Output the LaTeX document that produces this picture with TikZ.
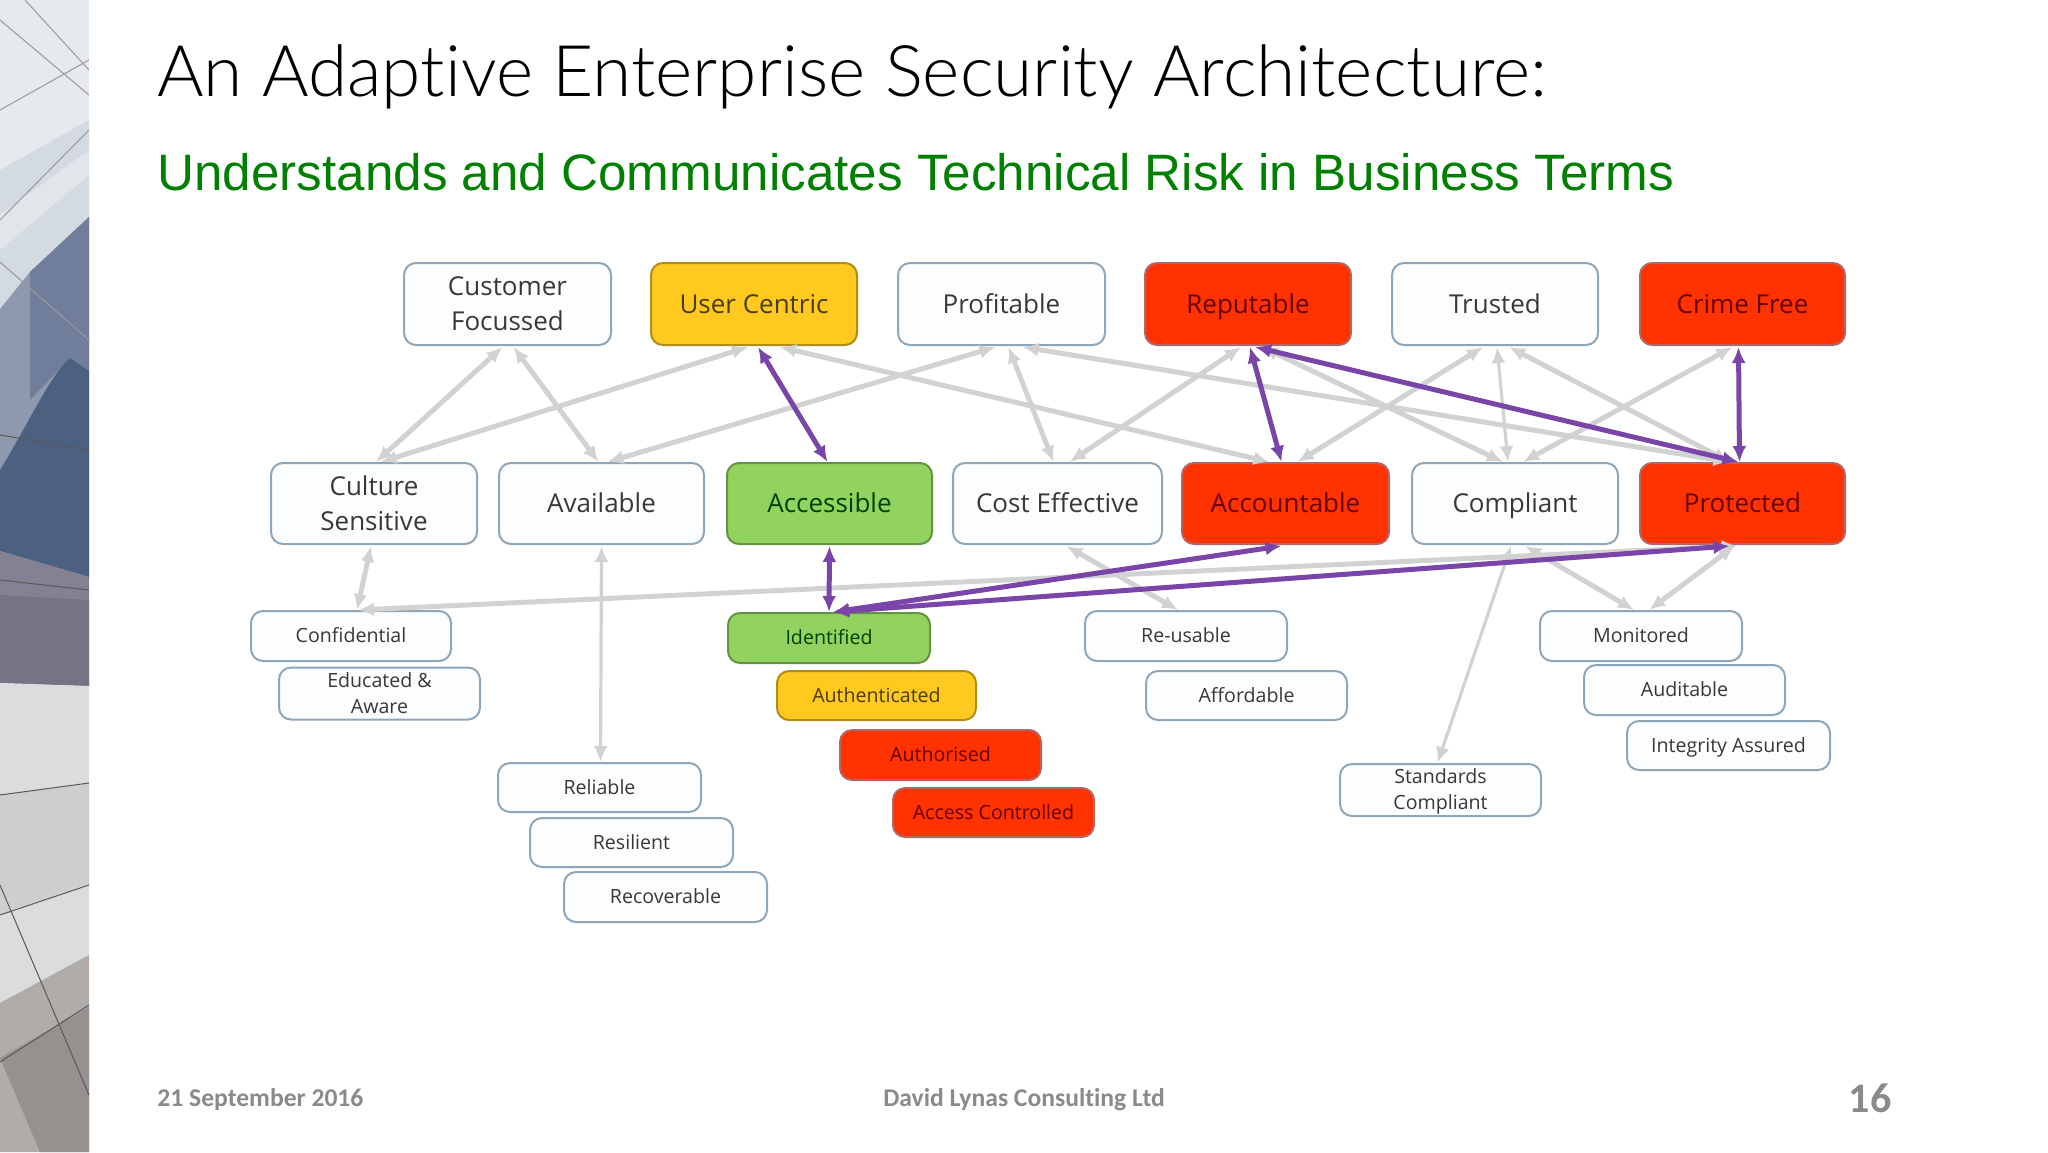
\documentclass[tikz,border=0pt]{standalone}
\usepackage{fontspec}
\setmainfont{Open Sans}
\newfontfamily\titlef[Ligatures=NoCommon]{Lato Light}
\newfontfamily\footf[Ligatures=NoCommon]{Carlito}
\newfontfamily\subf{Liberation Sans}
\usetikzlibrary{arrows.meta,calc}
\definecolor{bordc}{HTML}{8FA6B8}
\definecolor{fillw}{HTML}{FBFDFE}
\definecolor{redf}{HTML}{FF3200}
\definecolor{yelf}{HTML}{FFC91F}
\definecolor{grnf}{HTML}{92D25F}
\definecolor{grayl}{HTML}{D2D2D2}
\definecolor{purp}{HTML}{7A45A8}
\definecolor{foot}{HTML}{8A8A8A}
\newcommand\sv{\rule[-.24\baselineskip]{0pt}{\baselineskip}}
\tikzset{
  box/.style={draw=bordc,line width=1pt,fill=fillw,rounded corners=6pt,inner sep=0pt,align=center,text=black!78},
  bigb/.style={box,font=\fontsize{13}{17.6}\selectfont},
  smallb/.style={box,font=\fontsize{9.8}{13}\selectfont},
  redb/.style={fill=redf,draw=red!50!black!60,text=red!40!black},
  yelb/.style={fill=yelf,draw=yelf!70!black,text=yelf!30!black},
  grnb/.style={fill=grnf,draw=grnf!70!black,text=green!25!black},
  gl/.style={draw=grayl,line width=2.5pt,{Latex[length=8pt,width=7pt]}-{Latex[length=8pt,width=7pt]}},
  gt/.style={gl,line width=1.6pt},
  pl/.style={draw=purp,line width=2.5pt,{Latex[length=8pt,width=7pt]}-{Latex[length=8pt,width=7pt]}}
}
\newcommand\bx[7]{\node[#1,minimum width={(#5-#3)*0.5pt},minimum height={(#6-#4)*0.5pt}] (#2) at ({(#3+#5)/2},{(#4+#6)/2}) {\sv #7};}
\newcommand\lk[5]{\draw[#1] ($(#2.south)+(#3,1)$) -- ($(#4.north)+(#5,0)$);}
\begin{document}
\begin{tikzpicture}[x=0.5pt,y=-0.5pt]
\useasboundingbox (0,0) rectangle (2048,1152);
% left photo strip
\begin{scope}
\clip (0,0) rectangle (89,1152);
\fill[color={rgb,255:red,230;green,234;blue,238}] (0,0) rectangle (89,1152);
\fill[color={rgb,255:red,212;green,218;blue,225}] (0,170) -- (89,120) -- (89,217) -- (0,309) -- cycle;
\fill[color={rgb,255:red,226;green,230;blue,235}] (0,215) -- (89,150) -- (89,175) -- (0,250) -- cycle;
\fill[color={rgb,255:red,142;green,152;blue,174}] (0,309) -- (30,272) -- (89,217) -- (89,577) -- (0,551) -- cycle;
\fill[color={rgb,255:red,112;green,126;blue,156}] (30,272) -- (89,217) -- (89,371) -- (70,358) -- (30,400) -- cycle;
\fill[color={rgb,255:red,76;green,96;blue,128}] (0,470) .. controls (25,430) and (50,375) .. (70,358) -- (89,371) -- (89,577) -- (0,551) -- cycle;
\fill[color={rgb,255:red,132;green,130;blue,146}] (0,551) -- (89,577) -- (89,686) -- (0,683) -- cycle;
\fill[color={rgb,255:red,118;green,116;blue,132}] (0,595) -- (89,600) -- (89,686) -- (0,683) -- cycle;
\fill[color={rgb,255:red,218;green,220;blue,222}] (0,683) -- (89,686) -- (89,960) -- (0,1003) -- cycle;
\fill[color={rgb,255:red,204;green,206;blue,208}] (0,795) -- (89,783) -- (89,885) -- (0,915) -- cycle;
\fill[color={rgb,255:red,176;green,172;blue,170}] (0,1003) -- (89,955) -- (89,1152) -- (0,1152) -- cycle;
\fill[color={rgb,255:red,150;green,145;blue,142}] (0,1058) -- (89,1007) -- (89,1152) -- (40,1152) -- cycle;
\draw[black!40,line width=0.5pt] (0,20) -- (89,95) (25,0) -- (89,70) (0,110) -- (89,60) (0,220) -- (89,130) (0,262) -- (89,340);
\draw[black!65,line width=0.5pt] (0,435) -- (89,450) (0,580) -- (89,590) (0,795) -- (89,783) (0,915) -- (89,885) (0,885) -- (89,1095) (0,1062) -- (89,1005);
\end{scope}
% titles
\node[anchor=base west,inner sep=0pt,font=\titlef\fontsize{35.6}{40}\selectfont,text=black] (title) at (157,96) {An Adaptive Enterprise Security Architecture:};
\node[anchor=base west,inner sep=0pt,font=\subf\fontsize{25.6}{30}\selectfont,text={rgb,255:red,0;green,128;blue,0}] (subtitle) at (157,190) {Understands and Communicates Technical Risk in Business Terms};
% row 1
\bx{bigb}{cf}{404}{263}{611}{345}{Customer\\\sv Focussed}
\bx{bigb,yelb}{uc}{651}{263}{857}{345}{User Centric}
\bx{bigb}{pr}{898}{263}{1105}{345}{Profitable}
\bx{bigb,redb}{re}{1145}{263}{1351}{345}{Reputable}
\bx{bigb}{tr}{1392}{263}{1598}{345}{Trusted}
\bx{bigb,redb}{cr}{1640}{263}{1845}{345}{Crime Free}
% row 2
\bx{bigb}{cs}{271}{463}{477}{544}{Culture\\\sv Sensitive}
\bx{bigb}{av}{499}{463}{704}{544}{Available}
\bx{bigb,grnb}{ac}{727}{463}{932}{544}{Accessible}
\bx{bigb}{ce}{953}{463}{1162}{544}{Cost Effective}
\bx{bigb,redb}{au}{1182}{463}{1389}{544}{Accountable}
\bx{bigb}{co}{1412}{463}{1618}{544}{Compliant}
\bx{bigb,redb}{pt}{1640}{463}{1845}{544}{Protected}
% small boxes
\bx{smallb}{cn}{251}{611}{451}{661}{Confidential}
\bx{smallb}{ed}{279}{669}{480}{718}{Educated \&\\\sv Aware}
\bx{smallb,grnb}{id}{728}{613}{930}{663}{Identified}
\bx{smallb,yelb}{at}{777}{671}{976}{720}{Authenticated}
\bx{smallb,redb}{ao}{840}{730}{1041}{780}{Authorised}
\bx{smallb,redb}{ax}{893}{788}{1094}{837}{Access Controlled}
\bx{smallb}{ru}{1085}{611}{1287}{661}{Re-usable}
\bx{smallb}{af}{1146}{671}{1347}{720}{Affordable}
\bx{smallb}{mo}{1540}{611}{1742}{661}{Monitored}
\bx{smallb}{ad}{1584}{665}{1785}{715}{Auditable}
\bx{smallb}{ia}{1627}{721}{1830}{770}{Integrity Assured}
\bx{smallb}{sc}{1340}{765}{1541}{815}{Standards\\\sv Compliant}
\bx{smallb}{rl}{498}{763}{701}{812}{Reliable}
\bx{smallb}{rs}{530}{818}{733}{867}{Resilient}
\bx{smallb}{rc}{564}{872}{767}{922}{Recoverable}
% grey connectors
\lk{gl}{cf}{-5}{cs}{2}
\lk{gl}{cf}{6}{av}{-3}
\lk{gl}{uc}{-6}{cs}{7}
\lk{gl}{uc}{26}{au}{-16}
\lk{gl}{pr}{-6}{av}{6}
\lk{gl}{pr}{7}{ce}{-4}
\lk{gl}{pr}{21}{pt}{-13}
\lk{gl}{re}{-7}{ce}{12}
\lk{gl}{re}{14}{co}{-12}
\lk{gl}{tr}{-12}{au}{12}
\lk{gt}{tr}{2}{co}{-7}
\lk{gl}{tr}{14}{pt}{-13}
\lk{gl}{cr}{-10}{co}{8}
\lk{gl}{cs}{-3}{cn}{6}
\lk{gt}{av}{0}{rl}{1}
\lk{gl}{ce}{9}{ru}{-8}
\lk{gl}{co}{10}{mo}{-7}
\lk{gl}{pt}{-8}{mo}{8}
\lk{gt}{co}{-4}{sc}{-3}
\draw[gl] ($(cn.north)+(7,0)$) -- ($(pt.south)+(-5,1)$);
% purple connectors
\lk{pl}{uc}{4}{ac}{-2}
\lk{pl}{re}{2}{au}{-4}
\lk{pl}{re}{7}{pt}{-4}
\lk{pl}{cr}{-4}{pt}{-3}
\lk{pl}{ac}{0}{id}{0}
\draw[pl] ($(id.north)+(4,0)$) -- ($(au.south)+(-4,1)$);
\draw[pl] ($(id.north)+(4,0)$) -- ($(pt.south)+(-13,1)$);
% footer
\node[anchor=base west,inner sep=0pt,font=\footf\bfseries\fontsize{12.8}{14}\selectfont,text=foot] (date) at (157,1106) {21 September 2016};
\node[anchor=base,inner sep=0pt,font=\footf\bfseries\fontsize{12.8}{14}\selectfont,text=foot] (org) at (1024,1106) {David Lynas Consulting Ltd};
\node[anchor=base,inner sep=0pt,font=\footf\bfseries\fontsize{21}{22}\selectfont,text=foot] (page) at (1870,1112) {16};
\end{tikzpicture}
\end{document}
